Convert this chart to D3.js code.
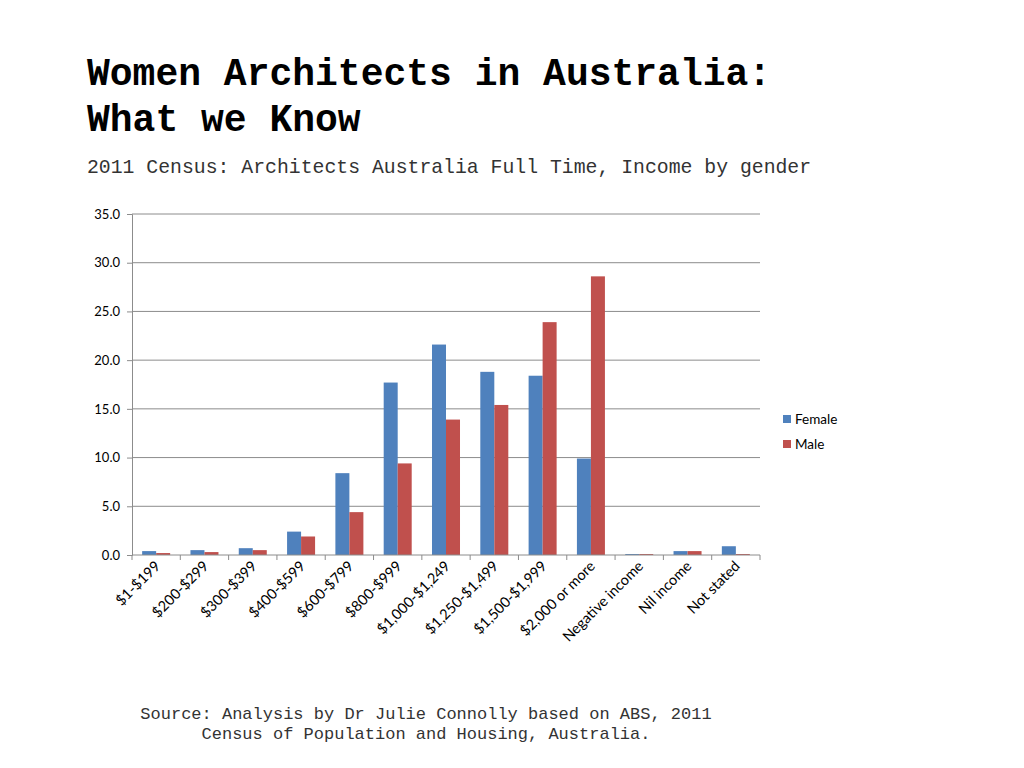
<!DOCTYPE html>
<html>
<head>
<meta charset="utf-8">
<script src="https://cdn.jsdelivr.net/npm/d3@7"></script>
<style>
  body { margin: 0; background: #fff; }
  svg { display: block; }
</style>
</head>
<body>
<div id="chart"></div>
<script>
// income brackets, % of full time architects (2011 census)
const categories = ['$1-$199', '$200-$299', '$300-$399', '$400-$599', '$600-$799', '$800-$999',
    '$1,000-$1,249', '$1,250-$1,499', '$1,500-$1,999', '$2,000 or more',
    'Negative income', 'Nil income', 'Not stated'];
const female = [0.4, 0.5, 0.7, 2.4, 8.4, 17.7, 21.6, 18.8, 18.4, 9.9, 0.1, 0.4, 0.9];
const male = [0.2, 0.3, 0.5, 1.9, 4.4, 9.4, 13.9, 15.4, 23.9, 28.6, 0.1, 0.4, 0.1];
const seriesNames = ['Female', 'Male'];
const yTicks = [0, 5, 10, 15, 20, 25, 30, 35];

const colors = { Female: '#4F81BD', Male: '#C0504D' };
const labelFont = 'Lato, "Open Sans", sans-serif';
const monoFont = '"Liberation Mono", "Courier New", monospace';

const svg = d3.select('#chart').append('svg')
    .attr('width', 1024)
    .attr('height', 768);

// Titles
svg.append('text')
    .attr('x', 87).attr('y', 85)
    .attr('font-family', monoFont)
    .attr('font-weight', 'bold')
    .attr('font-size', 38)
    .text('Women Architects in Australia:');
svg.append('text')
    .attr('x', 87).attr('y', 131)
    .attr('font-family', monoFont)
    .attr('font-weight', 'bold')
    .attr('font-size', 38)
    .text('What we Know');
svg.append('text')
    .attr('x', 87).attr('y', 173)
    .attr('font-family', monoFont)
    .attr('font-size', 19.8)
    .attr('fill', '#333')
    .text('2011 Census: Architects Australia Full Time, Income by gender');

// Plot area
const plotLeft = 132, plotRight = 760, plotTop = 214, plotBottom = 555;

const x = d3.scaleBand()
    .domain(categories)
    .range([plotLeft, plotRight]);

const x1 = d3.scaleBand()
    .domain(seriesNames)
    .range([0, x.bandwidth()])
    .paddingOuter(0.725)
    .paddingInner(0);

const y = d3.scaleLinear()
    .domain([0, 35])
    .range([plotBottom, plotTop]);

// gridlines
svg.append('g')
    .selectAll('line')
    .data(yTicks.slice(1))
    .join('line')
    .attr('x1', plotLeft).attr('x2', plotRight)
    .attr('y1', d => y(d)).attr('y2', d => y(d))
    .attr('stroke', '#8c8c8c')
    .attr('stroke-width', 1);

// bars
const data = categories.map((c, i) => ({ cat: c, values: [
    { name: 'Female', v: female[i] },
    { name: 'Male', v: male[i] }
] }));

svg.append('g')
    .selectAll('g')
    .data(data)
    .join('g')
    .attr('transform', d => `translate(${x(d.cat)},0)`)
    .selectAll('rect')
    .data(d => d.values)
    .join('rect')
    .attr('x', d => x1(d.name))
    .attr('width', x1.bandwidth())
    .attr('y', d => y(d.v))
    .attr('height', d => y(0) - y(d.v))
    .attr('fill', d => colors[d.name]);

// y axis
const yAxis = svg.append('g')
    .attr('transform', `translate(${plotLeft},0)`)
    .call(d3.axisLeft(y).tickValues(yTicks).tickFormat(d3.format('.1f')).tickSize(5).tickPadding(7));
yAxis.select('.domain').attr('stroke', '#8c8c8c');
yAxis.selectAll('.tick line').attr('stroke', '#8c8c8c');
yAxis.selectAll('text')
    .attr('font-family', labelFont)
    .attr('font-size', 13)
    .attr('fill', '#000');

// x axis: ticks at category boundaries
const xAxis = svg.append('g')
    .attr('transform', `translate(0,${plotBottom})`);
xAxis.append('line')
    .attr('x1', plotLeft).attr('x2', plotRight)
    .attr('stroke', '#8c8c8c');
xAxis.selectAll('line.tk')
    .data(categories.map(c => x(c)).concat([plotRight]))
    .join('line')
    .attr('class', 'tk')
    .attr('x1', d => d).attr('x2', d => d)
    .attr('y1', 0).attr('y2', 5)
    .attr('stroke', '#8c8c8c');
xAxis.selectAll('text')
    .data(categories)
    .join('text')
    .attr('transform', d => `translate(${x(d) + x.bandwidth() / 2 + 5},${12}) rotate(-45)`)
    .attr('text-anchor', 'end')
    .attr('font-family', labelFont)
    .attr('font-size', 14.5)
    .attr('fill', '#000')
    .text(d => d);

// legend
const legend = svg.append('g')
    .selectAll('g')
    .data(seriesNames)
    .join('g')
    .attr('transform', (d, i) => `translate(783,${419 + i * 25})`);
legend.append('rect')
    .attr('x', 0).attr('y', -4)
    .attr('width', 8).attr('height', 8)
    .attr('fill', d => colors[d]);
legend.append('text')
    .attr('x', 12).attr('y', 0)
    .attr('dy', '0.35em')
    .attr('font-family', labelFont)
    .attr('font-size', 13.5)
    .text(d => d);

// source note
svg.append('text')
    .attr('x', 426).attr('y', 719)
    .attr('text-anchor', 'middle')
    .attr('font-family', monoFont)
    .attr('font-size', 17)
    .attr('fill', '#333')
    .text('Source: Analysis by Dr Julie Connolly based on ABS, 2011');
svg.append('text')
    .attr('x', 426).attr('y', 739)
    .attr('text-anchor', 'middle')
    .attr('font-family', monoFont)
    .attr('font-size', 17)
    .attr('fill', '#333')
    .text('Census of Population and Housing, Australia.');
</script>
</body>
</html>
